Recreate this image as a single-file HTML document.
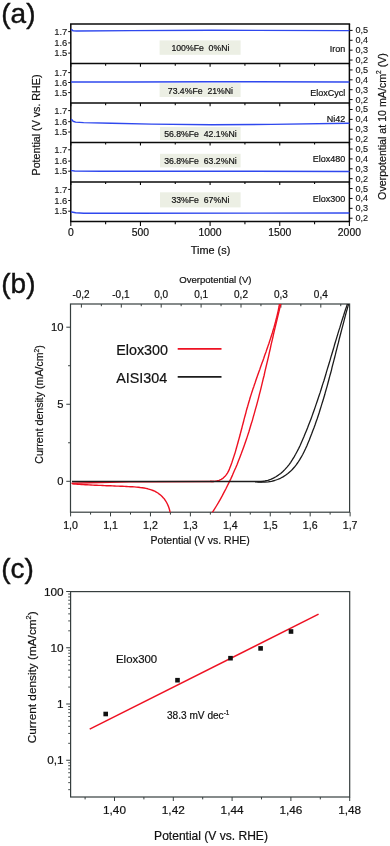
<!DOCTYPE html>
<html lang="en"><head><meta charset="utf-8"><title>Figure</title>
<style>html,body{margin:0;padding:0;background:#fff}svg{display:block}text{stroke:#111;stroke-width:.2px}.tk{stroke-width:.1px}.pl{stroke-width:.4px}</style></head>
<body>
<svg width="390" height="846" viewBox="0 0 390 846" font-family="'Liberation Sans', Arial, sans-serif" fill="#111">
<rect width="390" height="846" fill="#fff"/>
<text x="1.30" y="22.60" font-size="28" text-anchor="start" class="pl">(a)</text>
<text x="1.30" y="293.30" font-size="28" text-anchor="start" class="pl">(b)</text>
<text x="1.30" y="578.20" font-size="28" text-anchor="start" class="pl">(c)</text>
<line x1="70.05" y1="24.00" x2="350.15" y2="24.00" stroke="#0a0a0a" stroke-width="1.5"/>
<line x1="70.05" y1="63.50" x2="350.15" y2="63.50" stroke="#0a0a0a" stroke-width="1.5"/>
<line x1="70.05" y1="103.00" x2="350.15" y2="103.00" stroke="#0a0a0a" stroke-width="1.5"/>
<line x1="70.05" y1="142.40" x2="350.15" y2="142.40" stroke="#0a0a0a" stroke-width="1.5"/>
<line x1="70.05" y1="181.90" x2="350.15" y2="181.90" stroke="#0a0a0a" stroke-width="1.5"/>
<line x1="70.05" y1="221.50" x2="350.15" y2="221.50" stroke="#0a0a0a" stroke-width="1.5"/>
<line x1="70.80" y1="24.00" x2="70.80" y2="221.50" stroke="#0a0a0a" stroke-width="1.5"/>
<line x1="349.40" y1="24.00" x2="349.40" y2="221.50" stroke="#0a0a0a" stroke-width="1.5"/>
<line x1="70.80" y1="63.50" x2="70.80" y2="66.70" stroke="#0a0a0a" stroke-width="1.1"/>
<line x1="105.62" y1="63.50" x2="105.62" y2="65.70" stroke="#0a0a0a" stroke-width="1.1"/>
<line x1="140.45" y1="63.50" x2="140.45" y2="66.70" stroke="#0a0a0a" stroke-width="1.1"/>
<line x1="175.27" y1="63.50" x2="175.27" y2="65.70" stroke="#0a0a0a" stroke-width="1.1"/>
<line x1="210.10" y1="63.50" x2="210.10" y2="66.70" stroke="#0a0a0a" stroke-width="1.1"/>
<line x1="244.92" y1="63.50" x2="244.92" y2="65.70" stroke="#0a0a0a" stroke-width="1.1"/>
<line x1="279.75" y1="63.50" x2="279.75" y2="66.70" stroke="#0a0a0a" stroke-width="1.1"/>
<line x1="314.57" y1="63.50" x2="314.57" y2="65.70" stroke="#0a0a0a" stroke-width="1.1"/>
<line x1="349.40" y1="63.50" x2="349.40" y2="66.70" stroke="#0a0a0a" stroke-width="1.1"/>
<line x1="70.80" y1="103.00" x2="70.80" y2="106.20" stroke="#0a0a0a" stroke-width="1.1"/>
<line x1="105.62" y1="103.00" x2="105.62" y2="105.20" stroke="#0a0a0a" stroke-width="1.1"/>
<line x1="140.45" y1="103.00" x2="140.45" y2="106.20" stroke="#0a0a0a" stroke-width="1.1"/>
<line x1="175.27" y1="103.00" x2="175.27" y2="105.20" stroke="#0a0a0a" stroke-width="1.1"/>
<line x1="210.10" y1="103.00" x2="210.10" y2="106.20" stroke="#0a0a0a" stroke-width="1.1"/>
<line x1="244.92" y1="103.00" x2="244.92" y2="105.20" stroke="#0a0a0a" stroke-width="1.1"/>
<line x1="279.75" y1="103.00" x2="279.75" y2="106.20" stroke="#0a0a0a" stroke-width="1.1"/>
<line x1="314.57" y1="103.00" x2="314.57" y2="105.20" stroke="#0a0a0a" stroke-width="1.1"/>
<line x1="349.40" y1="103.00" x2="349.40" y2="106.20" stroke="#0a0a0a" stroke-width="1.1"/>
<line x1="70.80" y1="142.40" x2="70.80" y2="145.60" stroke="#0a0a0a" stroke-width="1.1"/>
<line x1="105.62" y1="142.40" x2="105.62" y2="144.60" stroke="#0a0a0a" stroke-width="1.1"/>
<line x1="140.45" y1="142.40" x2="140.45" y2="145.60" stroke="#0a0a0a" stroke-width="1.1"/>
<line x1="175.27" y1="142.40" x2="175.27" y2="144.60" stroke="#0a0a0a" stroke-width="1.1"/>
<line x1="210.10" y1="142.40" x2="210.10" y2="145.60" stroke="#0a0a0a" stroke-width="1.1"/>
<line x1="244.92" y1="142.40" x2="244.92" y2="144.60" stroke="#0a0a0a" stroke-width="1.1"/>
<line x1="279.75" y1="142.40" x2="279.75" y2="145.60" stroke="#0a0a0a" stroke-width="1.1"/>
<line x1="314.57" y1="142.40" x2="314.57" y2="144.60" stroke="#0a0a0a" stroke-width="1.1"/>
<line x1="349.40" y1="142.40" x2="349.40" y2="145.60" stroke="#0a0a0a" stroke-width="1.1"/>
<line x1="70.80" y1="181.90" x2="70.80" y2="185.10" stroke="#0a0a0a" stroke-width="1.1"/>
<line x1="105.62" y1="181.90" x2="105.62" y2="184.10" stroke="#0a0a0a" stroke-width="1.1"/>
<line x1="140.45" y1="181.90" x2="140.45" y2="185.10" stroke="#0a0a0a" stroke-width="1.1"/>
<line x1="175.27" y1="181.90" x2="175.27" y2="184.10" stroke="#0a0a0a" stroke-width="1.1"/>
<line x1="210.10" y1="181.90" x2="210.10" y2="185.10" stroke="#0a0a0a" stroke-width="1.1"/>
<line x1="244.92" y1="181.90" x2="244.92" y2="184.10" stroke="#0a0a0a" stroke-width="1.1"/>
<line x1="279.75" y1="181.90" x2="279.75" y2="185.10" stroke="#0a0a0a" stroke-width="1.1"/>
<line x1="314.57" y1="181.90" x2="314.57" y2="184.10" stroke="#0a0a0a" stroke-width="1.1"/>
<line x1="349.40" y1="181.90" x2="349.40" y2="185.10" stroke="#0a0a0a" stroke-width="1.1"/>
<line x1="70.80" y1="221.50" x2="70.80" y2="226.00" stroke="#0a0a0a" stroke-width="1.1"/>
<line x1="105.62" y1="221.50" x2="105.62" y2="224.20" stroke="#0a0a0a" stroke-width="1.1"/>
<line x1="140.45" y1="221.50" x2="140.45" y2="226.00" stroke="#0a0a0a" stroke-width="1.1"/>
<line x1="175.27" y1="221.50" x2="175.27" y2="224.20" stroke="#0a0a0a" stroke-width="1.1"/>
<line x1="210.10" y1="221.50" x2="210.10" y2="226.00" stroke="#0a0a0a" stroke-width="1.1"/>
<line x1="244.92" y1="221.50" x2="244.92" y2="224.20" stroke="#0a0a0a" stroke-width="1.1"/>
<line x1="279.75" y1="221.50" x2="279.75" y2="226.00" stroke="#0a0a0a" stroke-width="1.1"/>
<line x1="314.57" y1="221.50" x2="314.57" y2="224.20" stroke="#0a0a0a" stroke-width="1.1"/>
<line x1="349.40" y1="221.50" x2="349.40" y2="226.00" stroke="#0a0a0a" stroke-width="1.1"/>
<text transform="translate(67.30,34.87) scale(1.14,1)" font-size="8.3" text-anchor="end" class="tk">1.7</text>
<line x1="68.20" y1="31.60" x2="70.80" y2="31.60" stroke="#0a0a0a" stroke-width="1.0"/>
<text transform="translate(67.30,46.17) scale(1.14,1)" font-size="8.3" text-anchor="end" class="tk">1.6</text>
<line x1="68.20" y1="42.90" x2="70.80" y2="42.90" stroke="#0a0a0a" stroke-width="1.0"/>
<text transform="translate(67.30,56.37) scale(1.14,1)" font-size="8.3" text-anchor="end" class="tk">1.5</text>
<line x1="68.20" y1="53.10" x2="70.80" y2="53.10" stroke="#0a0a0a" stroke-width="1.0"/>
<text transform="translate(67.30,75.87) scale(1.14,1)" font-size="8.3" text-anchor="end" class="tk">1.7</text>
<line x1="68.20" y1="72.60" x2="70.80" y2="72.60" stroke="#0a0a0a" stroke-width="1.0"/>
<text transform="translate(67.30,85.77) scale(1.14,1)" font-size="8.3" text-anchor="end" class="tk">1.6</text>
<line x1="68.20" y1="82.50" x2="70.80" y2="82.50" stroke="#0a0a0a" stroke-width="1.0"/>
<text transform="translate(67.30,95.87) scale(1.14,1)" font-size="8.3" text-anchor="end" class="tk">1.5</text>
<line x1="68.20" y1="92.60" x2="70.80" y2="92.60" stroke="#0a0a0a" stroke-width="1.0"/>
<text transform="translate(67.30,113.87) scale(1.14,1)" font-size="8.3" text-anchor="end" class="tk">1.7</text>
<line x1="68.20" y1="110.60" x2="70.80" y2="110.60" stroke="#0a0a0a" stroke-width="1.0"/>
<text transform="translate(67.30,124.97) scale(1.14,1)" font-size="8.3" text-anchor="end" class="tk">1.6</text>
<line x1="68.20" y1="121.70" x2="70.80" y2="121.70" stroke="#0a0a0a" stroke-width="1.0"/>
<text transform="translate(67.30,135.27) scale(1.14,1)" font-size="8.3" text-anchor="end" class="tk">1.5</text>
<line x1="68.20" y1="132.00" x2="70.80" y2="132.00" stroke="#0a0a0a" stroke-width="1.0"/>
<text transform="translate(67.30,153.07) scale(1.14,1)" font-size="8.3" text-anchor="end" class="tk">1.7</text>
<line x1="68.20" y1="149.80" x2="70.80" y2="149.80" stroke="#0a0a0a" stroke-width="1.0"/>
<text transform="translate(67.30,164.37) scale(1.14,1)" font-size="8.3" text-anchor="end" class="tk">1.6</text>
<line x1="68.20" y1="161.10" x2="70.80" y2="161.10" stroke="#0a0a0a" stroke-width="1.0"/>
<text transform="translate(67.30,174.47) scale(1.14,1)" font-size="8.3" text-anchor="end" class="tk">1.5</text>
<line x1="68.20" y1="171.20" x2="70.80" y2="171.20" stroke="#0a0a0a" stroke-width="1.0"/>
<text transform="translate(67.30,192.67) scale(1.14,1)" font-size="8.3" text-anchor="end" class="tk">1.7</text>
<line x1="68.20" y1="189.40" x2="70.80" y2="189.40" stroke="#0a0a0a" stroke-width="1.0"/>
<text transform="translate(67.30,203.77) scale(1.14,1)" font-size="8.3" text-anchor="end" class="tk">1.6</text>
<line x1="68.20" y1="200.50" x2="70.80" y2="200.50" stroke="#0a0a0a" stroke-width="1.0"/>
<text transform="translate(67.30,214.47) scale(1.14,1)" font-size="8.3" text-anchor="end" class="tk">1.5</text>
<line x1="68.20" y1="211.20" x2="70.80" y2="211.20" stroke="#0a0a0a" stroke-width="1.0"/>
<text transform="translate(355.40,33.37) scale(1.1,1)" font-size="8.3" text-anchor="start" class="tk">0,5</text>
<line x1="349.40" y1="30.40" x2="352.60" y2="30.40" stroke="#0a0a0a" stroke-width="1.0"/>
<text transform="translate(355.40,43.26) scale(1.1,1)" font-size="8.3" text-anchor="start" class="tk">0,4</text>
<line x1="349.40" y1="40.28" x2="352.60" y2="40.28" stroke="#0a0a0a" stroke-width="1.0"/>
<text transform="translate(355.40,53.14) scale(1.1,1)" font-size="8.3" text-anchor="start" class="tk">0,3</text>
<line x1="349.40" y1="50.17" x2="352.60" y2="50.17" stroke="#0a0a0a" stroke-width="1.0"/>
<text transform="translate(355.40,63.03) scale(1.1,1)" font-size="8.3" text-anchor="start" class="tk">0,2</text>
<line x1="349.40" y1="60.05" x2="352.60" y2="60.05" stroke="#0a0a0a" stroke-width="1.0"/>
<text transform="translate(355.40,72.91) scale(1.1,1)" font-size="8.3" text-anchor="start" class="tk">0,5</text>
<line x1="349.40" y1="69.94" x2="352.60" y2="69.94" stroke="#0a0a0a" stroke-width="1.0"/>
<text transform="translate(355.40,82.80) scale(1.1,1)" font-size="8.3" text-anchor="start" class="tk">0,4</text>
<line x1="349.40" y1="79.82" x2="352.60" y2="79.82" stroke="#0a0a0a" stroke-width="1.0"/>
<text transform="translate(355.40,92.68) scale(1.1,1)" font-size="8.3" text-anchor="start" class="tk">0,3</text>
<line x1="349.40" y1="89.71" x2="352.60" y2="89.71" stroke="#0a0a0a" stroke-width="1.0"/>
<text transform="translate(355.40,102.57) scale(1.1,1)" font-size="8.3" text-anchor="start" class="tk">0,2</text>
<line x1="349.40" y1="99.59" x2="352.60" y2="99.59" stroke="#0a0a0a" stroke-width="1.0"/>
<text transform="translate(355.40,112.45) scale(1.1,1)" font-size="8.3" text-anchor="start" class="tk">0,5</text>
<line x1="349.40" y1="109.48" x2="352.60" y2="109.48" stroke="#0a0a0a" stroke-width="1.0"/>
<text transform="translate(355.40,122.34) scale(1.1,1)" font-size="8.3" text-anchor="start" class="tk">0,4</text>
<line x1="349.40" y1="119.37" x2="352.60" y2="119.37" stroke="#0a0a0a" stroke-width="1.0"/>
<text transform="translate(355.40,132.22) scale(1.1,1)" font-size="8.3" text-anchor="start" class="tk">0,3</text>
<line x1="349.40" y1="129.25" x2="352.60" y2="129.25" stroke="#0a0a0a" stroke-width="1.0"/>
<text transform="translate(355.40,142.11) scale(1.1,1)" font-size="8.3" text-anchor="start" class="tk">0,2</text>
<line x1="349.40" y1="139.13" x2="352.60" y2="139.13" stroke="#0a0a0a" stroke-width="1.0"/>
<text transform="translate(355.40,151.99) scale(1.1,1)" font-size="8.3" text-anchor="start" class="tk">0,5</text>
<line x1="349.40" y1="149.02" x2="352.60" y2="149.02" stroke="#0a0a0a" stroke-width="1.0"/>
<text transform="translate(355.40,161.88) scale(1.1,1)" font-size="8.3" text-anchor="start" class="tk">0,4</text>
<line x1="349.40" y1="158.91" x2="352.60" y2="158.91" stroke="#0a0a0a" stroke-width="1.0"/>
<text transform="translate(355.40,171.76) scale(1.1,1)" font-size="8.3" text-anchor="start" class="tk">0,3</text>
<line x1="349.40" y1="168.79" x2="352.60" y2="168.79" stroke="#0a0a0a" stroke-width="1.0"/>
<text transform="translate(355.40,181.65) scale(1.1,1)" font-size="8.3" text-anchor="start" class="tk">0,2</text>
<line x1="349.40" y1="178.68" x2="352.60" y2="178.68" stroke="#0a0a0a" stroke-width="1.0"/>
<text transform="translate(355.40,191.53) scale(1.1,1)" font-size="8.3" text-anchor="start" class="tk">0,5</text>
<line x1="349.40" y1="188.56" x2="352.60" y2="188.56" stroke="#0a0a0a" stroke-width="1.0"/>
<text transform="translate(355.40,201.42) scale(1.1,1)" font-size="8.3" text-anchor="start" class="tk">0,4</text>
<line x1="349.40" y1="198.44" x2="352.60" y2="198.44" stroke="#0a0a0a" stroke-width="1.0"/>
<text transform="translate(355.40,211.30) scale(1.1,1)" font-size="8.3" text-anchor="start" class="tk">0,3</text>
<line x1="349.40" y1="208.33" x2="352.60" y2="208.33" stroke="#0a0a0a" stroke-width="1.0"/>
<text transform="translate(355.40,221.19) scale(1.1,1)" font-size="8.3" text-anchor="start" class="tk">0,2</text>
<line x1="349.40" y1="218.22" x2="352.60" y2="218.22" stroke="#0a0a0a" stroke-width="1.0"/>
<path d="M71.6,29.6 L73.1,30.9 L76.6,31.0 L131.6,30.6 L211.6,30.3 L348.9,30.6" fill="none" stroke="#2f48ee" stroke-width="1.45" stroke-linejoin="round" stroke-linecap="round"/>
<path d="M71.6,82.0 L131.6,81.9 L211.6,81.7 L348.9,82.0" fill="none" stroke="#2f48ee" stroke-width="1.45" stroke-linejoin="round" stroke-linecap="round"/>
<path d="M71.6,119.5 L73.1,121.2 L75.6,122.1 L83.6,122.6 L111.6,123.3 L151.6,124.1 L211.6,124.8 L271.6,124.4 L348.9,123.3" fill="none" stroke="#2f48ee" stroke-width="1.45" stroke-linejoin="round" stroke-linecap="round"/>
<path d="M71.6,170.6 L74.6,171.0 L101.6,171.3 L211.6,171.3 L348.9,171.4" fill="none" stroke="#2f48ee" stroke-width="1.45" stroke-linejoin="round" stroke-linecap="round"/>
<path d="M71.6,212.0 L75.6,212.8 L83.6,213.2 L131.6,213.3 L348.9,213.0" fill="none" stroke="#2f48ee" stroke-width="1.45" stroke-linejoin="round" stroke-linecap="round"/>
<rect x="159.6" y="40.4" width="81.0" height="14.4" fill="#ecefe4"/>
<text x="200.40" y="51.41" font-size="8.7" text-anchor="middle" xml:space="preserve">100%Fe&#160;&#160;0%Ni</text>
<rect x="159.6" y="83.2" width="81.0" height="13.8" fill="#ecefe4"/>
<text x="200.40" y="94.11" font-size="8.7" text-anchor="middle" xml:space="preserve">73.4%Fe&#160;&#160;21%Ni</text>
<rect x="160" y="127" width="80.6" height="13.2" fill="#ecefe4"/>
<text x="200.40" y="136.91" font-size="8.7" text-anchor="middle" xml:space="preserve">56.8%Fe&#160;&#160;42.1%Ni</text>
<rect x="160" y="153.8" width="80.6" height="13.6" fill="#ecefe4"/>
<text x="200.40" y="164.11" font-size="8.7" text-anchor="middle" xml:space="preserve">36.8%Fe&#160;&#160;63.2%Ni</text>
<rect x="160" y="192.3" width="80.6" height="15.1" fill="#ecefe4"/>
<text x="200.40" y="203.11" font-size="8.7" text-anchor="middle" xml:space="preserve">33%Fe&#160;&#160;67%Ni</text>
<text x="345.30" y="52.42" font-size="9.0" text-anchor="end">Iron</text>
<text x="345.30" y="95.52" font-size="9.0" text-anchor="end">EloxCycl</text>
<text x="345.30" y="121.72" font-size="9.0" text-anchor="end">Ni42</text>
<text x="345.30" y="162.42" font-size="9.0" text-anchor="end">Elox480</text>
<text x="345.30" y="201.52" font-size="9.0" text-anchor="end">Elox300</text>
<text x="70.80" y="236.12" font-size="10.4" text-anchor="middle">0</text>
<text x="140.45" y="236.12" font-size="10.4" text-anchor="middle">500</text>
<text x="210.10" y="236.12" font-size="10.4" text-anchor="middle">1000</text>
<text x="279.75" y="236.12" font-size="10.4" text-anchor="middle">1500</text>
<text x="349.40" y="236.12" font-size="10.4" text-anchor="middle">2000</text>
<text x="210.50" y="253.90" font-size="10.9" text-anchor="middle">Time (s)</text>
<text transform="translate(39.70,125.00) rotate(-90)" font-size="10.7" text-anchor="middle">Potential (V vs. RHE)</text>
<text transform="translate(385.80,126.50) rotate(-90)" font-size="10.65" text-anchor="middle">Overpotential at 10 mA/cm<tspan font-size="6.6" dy="-4.4">2</tspan><tspan dy="4.4"> (V)</tspan></text>
<rect x="70.5" y="304.0" width="279.10" height="208.20" fill="none" stroke="#363e3e" stroke-width="1.2"/>
<line x1="70.60" y1="512.20" x2="70.60" y2="516.40" stroke="#363e3e" stroke-width="1.0"/>
<text x="70.60" y="528.59" font-size="10.6" text-anchor="middle">1,0</text>
<line x1="90.57" y1="512.20" x2="90.57" y2="514.60" stroke="#363e3e" stroke-width="1.0"/>
<line x1="110.53" y1="512.20" x2="110.53" y2="516.40" stroke="#363e3e" stroke-width="1.0"/>
<text x="110.53" y="528.59" font-size="10.6" text-anchor="middle">1,1</text>
<line x1="130.49" y1="512.20" x2="130.49" y2="514.60" stroke="#363e3e" stroke-width="1.0"/>
<line x1="150.46" y1="512.20" x2="150.46" y2="516.40" stroke="#363e3e" stroke-width="1.0"/>
<text x="150.46" y="528.59" font-size="10.6" text-anchor="middle">1,2</text>
<line x1="170.43" y1="512.20" x2="170.43" y2="514.60" stroke="#363e3e" stroke-width="1.0"/>
<line x1="190.39" y1="512.20" x2="190.39" y2="516.40" stroke="#363e3e" stroke-width="1.0"/>
<text x="190.39" y="528.59" font-size="10.6" text-anchor="middle">1,3</text>
<line x1="210.36" y1="512.20" x2="210.36" y2="514.60" stroke="#363e3e" stroke-width="1.0"/>
<line x1="230.32" y1="512.20" x2="230.32" y2="516.40" stroke="#363e3e" stroke-width="1.0"/>
<text x="230.32" y="528.59" font-size="10.6" text-anchor="middle">1,4</text>
<line x1="250.28" y1="512.20" x2="250.28" y2="514.60" stroke="#363e3e" stroke-width="1.0"/>
<line x1="270.25" y1="512.20" x2="270.25" y2="516.40" stroke="#363e3e" stroke-width="1.0"/>
<text x="270.25" y="528.59" font-size="10.6" text-anchor="middle">1,5</text>
<line x1="290.22" y1="512.20" x2="290.22" y2="514.60" stroke="#363e3e" stroke-width="1.0"/>
<line x1="310.18" y1="512.20" x2="310.18" y2="516.40" stroke="#363e3e" stroke-width="1.0"/>
<text x="310.18" y="528.59" font-size="10.6" text-anchor="middle">1,6</text>
<line x1="330.14" y1="512.20" x2="330.14" y2="514.60" stroke="#363e3e" stroke-width="1.0"/>
<line x1="350.11" y1="512.20" x2="350.11" y2="516.40" stroke="#363e3e" stroke-width="1.0"/>
<text x="350.11" y="528.59" font-size="10.6" text-anchor="middle">1,7</text>
<line x1="81.40" y1="304.00" x2="81.40" y2="307.60" stroke="#363e3e" stroke-width="1.0"/>
<text x="81.00" y="297.68" font-size="10.0" text-anchor="middle">-0,2</text>
<line x1="101.35" y1="304.00" x2="101.35" y2="306.20" stroke="#363e3e" stroke-width="1.0"/>
<line x1="121.30" y1="304.00" x2="121.30" y2="307.60" stroke="#363e3e" stroke-width="1.0"/>
<text x="120.90" y="297.68" font-size="10.0" text-anchor="middle">-0,1</text>
<line x1="141.25" y1="304.00" x2="141.25" y2="306.20" stroke="#363e3e" stroke-width="1.0"/>
<line x1="161.20" y1="304.00" x2="161.20" y2="307.60" stroke="#363e3e" stroke-width="1.0"/>
<text x="161.20" y="297.68" font-size="10.0" text-anchor="middle">0,0</text>
<line x1="181.15" y1="304.00" x2="181.15" y2="306.20" stroke="#363e3e" stroke-width="1.0"/>
<line x1="201.10" y1="304.00" x2="201.10" y2="307.60" stroke="#363e3e" stroke-width="1.0"/>
<text x="201.10" y="297.68" font-size="10.0" text-anchor="middle">0,1</text>
<line x1="221.05" y1="304.00" x2="221.05" y2="306.20" stroke="#363e3e" stroke-width="1.0"/>
<line x1="241.00" y1="304.00" x2="241.00" y2="307.60" stroke="#363e3e" stroke-width="1.0"/>
<text x="241.00" y="297.68" font-size="10.0" text-anchor="middle">0,2</text>
<line x1="260.95" y1="304.00" x2="260.95" y2="306.20" stroke="#363e3e" stroke-width="1.0"/>
<line x1="280.90" y1="304.00" x2="280.90" y2="307.60" stroke="#363e3e" stroke-width="1.0"/>
<text x="280.90" y="297.68" font-size="10.0" text-anchor="middle">0,3</text>
<line x1="300.85" y1="304.00" x2="300.85" y2="306.20" stroke="#363e3e" stroke-width="1.0"/>
<line x1="320.80" y1="304.00" x2="320.80" y2="307.60" stroke="#363e3e" stroke-width="1.0"/>
<text x="320.80" y="297.68" font-size="10.0" text-anchor="middle">0,4</text>
<line x1="340.75" y1="304.00" x2="340.75" y2="306.20" stroke="#363e3e" stroke-width="1.0"/>
<line x1="66.30" y1="327.20" x2="70.50" y2="327.20" stroke="#363e3e" stroke-width="1.0"/>
<text x="63.40" y="331.21" font-size="11.2" text-anchor="end">10</text>
<line x1="66.30" y1="404.25" x2="70.50" y2="404.25" stroke="#363e3e" stroke-width="1.0"/>
<text x="63.40" y="408.26" font-size="11.2" text-anchor="end">5</text>
<line x1="66.30" y1="481.30" x2="70.50" y2="481.30" stroke="#363e3e" stroke-width="1.0"/>
<text x="63.40" y="485.31" font-size="11.2" text-anchor="end">0</text>
<line x1="68.10" y1="365.73" x2="70.50" y2="365.73" stroke="#363e3e" stroke-width="1.0"/>
<line x1="68.10" y1="442.78" x2="70.50" y2="442.78" stroke="#363e3e" stroke-width="1.0"/>
<text x="215.40" y="282.82" font-size="9.55" text-anchor="middle">Overpotential (V)</text>
<text x="200.20" y="543.76" font-size="10.5" text-anchor="middle">Potential (V vs. RHE)</text>
<text transform="translate(43.40,404.50) rotate(-90)" font-size="10.6" text-anchor="middle">Current density (mA/cm<tspan font-size="6.6" dy="-4.4">2</tspan><tspan dy="4.4">)</tspan></text>
<clipPath id="cb"><rect x="70.5" y="304.0" width="279.10" height="208.20"/></clipPath>
<g clip-path="url(#cb)">
<path d="M72.2,483.8 L74.0,484.0 L75.8,484.1 L77.7,484.3 L79.6,484.4 L81.4,484.5 L83.3,484.6 L85.2,484.7 L87.1,484.8 L89.0,484.9 L90.9,485.0 L92.9,485.1 L94.8,485.2 L96.7,485.3 L98.7,485.4 L100.6,485.4 L102.6,485.5 L104.6,485.6 L106.5,485.7 L108.5,485.7 L110.5,485.8 L112.5,485.9 L114.5,486.0 L116.4,486.1 L118.4,486.1 L120.4,486.2 L122.4,486.3 L124.4,486.4 L126.4,486.5 L128.4,486.6 L130.4,486.7 L132.4,486.8 L134.3,486.9 L136.3,487.1 L138.3,487.2 L140.2,487.5 L142.2,487.7 L144.1,488.0 L145.9,488.4 L147.8,488.8 L149.6,489.3 L151.3,489.8 L153.0,490.5 L154.7,491.2 L156.3,492.1 L157.9,493.0 L159.3,494.1 L160.8,495.2 L162.1,496.5 L163.4,497.9 L164.6,499.3 L165.6,500.9 L166.6,502.5 L167.5,504.3 L168.3,506.1 L169.0,508.0 L169.6,510.0 L170.0,512.0 L170.3,514.2 L170.5,516.4" fill="none" stroke="#ee1122" stroke-width="1.4" stroke-linejoin="round"/>
<path d="M72.0,483.3 L90.0,482.7 L110.0,482.2 L130.0,481.9 L150.0,481.7 L214.0,481.5" fill="none" stroke="#ee1122" stroke-width="1.4" stroke-linejoin="round" stroke-linecap="round"/>
<path d="M210.1,481.2 L212.1,481.5 L214.4,481.4 L216.7,481.0 L219.1,480.3 L221.2,479.3 L223.2,478.1 L224.8,476.6 L226.2,474.9 L227.4,473.1 L228.5,471.2 L229.4,469.1 L230.2,467.0 L231.0,464.9 L231.8,462.8 L232.5,460.6 L233.2,458.5 L233.9,456.4 L234.6,454.2 L235.3,452.1 L235.9,449.9 L236.5,447.8 L237.1,445.6 L237.7,443.5 L238.3,441.3 L238.9,439.1 L239.5,437.0 L240.1,434.8 L240.6,432.7 L241.2,430.5 L241.8,428.3 L242.3,426.1 L242.9,424.0 L243.5,421.8 L244.0,419.6 L244.6,417.4 L245.2,415.3 L245.8,413.1 L246.3,410.9 L246.9,408.7 L247.6,406.5 L248.2,404.4 L248.8,402.2 L249.5,400.0 L250.1,397.8 L250.8,395.6 L251.5,393.4 L252.2,391.3 L252.9,389.1 L253.7,386.9 L254.4,384.7 L255.2,382.5 L255.9,380.3 L256.7,378.1 L257.4,376.0 L258.2,373.8 L259.0,371.6 L259.8,369.4 L260.5,367.2 L261.3,365.0 L262.1,362.8 L262.9,360.7 L263.7,358.5 L264.4,356.3 L265.2,354.1 L266.0,351.9 L266.7,349.7 L267.5,347.6 L268.2,345.4 L269.0,343.2 L269.7,341.0 L270.4,338.9 L271.1,336.7 L271.8,334.5 L272.5,332.4 L273.1,330.2 L273.8,328.0 L274.4,325.9 L275.0,323.7 L275.6,321.5 L276.1,319.4 L276.7,317.2 L277.2,315.1 L277.7,312.9 L278.2,310.8 L278.6,308.6 L279.1,306.5 L279.4,304.4 L279.8,302.2 L280.2,300.1" fill="none" stroke="#ee1122" stroke-width="1.4" stroke-linejoin="round"/>
<path d="M210.1,516.0 L212.2,512.7 L214.3,509.4 L216.4,506.0 L218.4,502.7 L220.3,499.3 L222.2,495.9 L224.0,492.4 L225.8,489.0 L227.5,485.5 L229.2,482.1 L230.9,478.6 L232.5,475.1 L234.0,471.5 L235.6,468.0 L237.1,464.4 L238.5,460.8 L239.9,457.2 L241.3,453.6 L242.6,450.0 L243.9,446.4 L245.2,442.7 L246.5,439.1 L247.7,435.4 L248.9,431.7 L250.0,428.0 L251.1,424.3 L252.3,420.6 L253.3,416.9 L254.4,413.1 L255.4,409.4 L256.5,405.6 L257.5,401.9 L258.5,398.1 L259.4,394.4 L260.4,390.6 L261.3,386.8 L262.2,383.1 L263.1,379.3 L264.1,375.5 L264.9,371.7 L265.8,367.9 L266.7,364.1 L267.6,360.3 L268.5,356.6 L269.3,352.8 L270.2,349.0 L271.0,345.2 L271.9,341.4 L272.8,337.6 L273.6,333.8 L274.5,330.1 L275.4,326.3 L276.3,322.5 L277.2,318.8 L278.1,315.0 L279.0,311.3 L279.9,307.5 L280.8,303.8 L281.8,300.1" fill="none" stroke="#ee1122" stroke-width="1.4" stroke-linejoin="round"/>
<line x1="72.00" y1="481.50" x2="262.00" y2="481.40" stroke="#1c1c1c" stroke-width="1.5"/>
<path d="M255.1,481.8 L258.6,481.8 L261.8,481.5 L264.9,481.0 L267.9,480.3 L270.7,479.3 L273.4,478.1 L275.9,476.7 L278.4,475.1 L280.7,473.4 L282.9,471.5 L285.0,469.4 L287.0,467.1 L288.9,464.8 L290.7,462.3 L292.4,459.7 L294.0,457.1 L295.6,454.3 L297.1,451.5 L298.6,448.6 L300.0,445.7 L301.3,442.7 L302.6,439.7 L303.9,436.7 L305.1,433.7 L306.4,430.7 L307.6,427.8 L308.7,424.8 L309.9,421.8 L311.0,418.9 L312.1,415.9 L313.1,413.0 L314.2,410.0 L315.2,407.1 L316.2,404.1 L317.2,401.2 L318.2,398.3 L319.2,395.3 L320.2,392.4 L321.1,389.5 L322.0,386.5 L322.9,383.6 L323.9,380.7 L324.8,377.7 L325.7,374.8 L326.5,371.9 L327.4,368.9 L328.3,366.0 L329.2,363.0 L330.1,360.1 L330.9,357.1 L331.8,354.2 L332.7,351.2 L333.6,348.3 L334.4,345.3 L335.3,342.3 L336.2,339.4 L337.1,336.4 L338.0,333.4 L338.9,330.4 L339.9,327.4 L340.8,324.4 L341.7,321.4 L342.7,318.3 L343.7,315.3 L344.6,312.2 L345.6,309.2 L346.7,306.1 L347.7,303.0 L348.7,299.9" fill="none" stroke="#1c1c1c" stroke-width="1.3" stroke-linejoin="round"/>
<path d="M257.4,481.9 L261.2,482.1 L264.8,482.1 L268.2,481.8 L271.5,481.3 L274.6,480.5 L277.5,479.5 L280.4,478.3 L283.0,476.9 L285.5,475.3 L287.9,473.5 L290.2,471.6 L292.3,469.5 L294.3,467.3 L296.2,464.9 L297.9,462.5 L299.6,459.9 L301.2,457.2 L302.7,454.5 L304.1,451.7 L305.5,448.8 L306.8,445.9 L308.0,442.9 L309.3,440.0 L310.4,437.0 L311.6,434.0 L312.7,431.0 L313.9,428.0 L315.0,425.0 L316.0,422.0 L317.1,419.0 L318.1,416.0 L319.1,413.0 L320.0,410.0 L321.0,406.9 L321.9,403.9 L322.9,400.8 L323.8,397.8 L324.7,394.8 L325.5,391.7 L326.4,388.6 L327.3,385.6 L328.1,382.5 L328.9,379.5 L329.7,376.4 L330.6,373.3 L331.4,370.3 L332.1,367.2 L332.9,364.1 L333.7,361.1 L334.5,358.0 L335.3,354.9 L336.0,351.9 L336.8,348.8 L337.6,345.7 L338.4,342.7 L339.1,339.6 L339.9,336.5 L340.7,333.5 L341.5,330.4 L342.3,327.4 L343.1,324.3 L343.9,321.3 L344.7,318.2 L345.5,315.2 L346.3,312.2 L347.2,309.1 L348.0,306.1 L348.9,303.1 L349.8,300.1" fill="none" stroke="#1c1c1c" stroke-width="1.3" stroke-linejoin="round"/>
</g>
<text x="116.20" y="355.34" font-size="14.35" text-anchor="start">Elox300</text>
<text x="116.20" y="383.34" font-size="14.35" text-anchor="start">AISI304</text>
<line x1="177.70" y1="348.90" x2="221.50" y2="348.90" stroke="#ee1122" stroke-width="1.6"/>
<line x1="177.70" y1="376.90" x2="221.50" y2="376.90" stroke="#1c1c1c" stroke-width="1.6"/>
<rect x="70.6" y="591.6" width="279.10" height="205.40" fill="none" stroke="#363e3e" stroke-width="1.2"/>
<line x1="66.20" y1="591.50" x2="70.60" y2="591.50" stroke="#363e3e" stroke-width="1.0"/>
<text x="63.60" y="595.72" font-size="11.8" text-anchor="end">100</text>
<line x1="66.20" y1="647.75" x2="70.60" y2="647.75" stroke="#363e3e" stroke-width="1.0"/>
<text x="63.60" y="651.97" font-size="11.8" text-anchor="end">10</text>
<line x1="66.20" y1="704.00" x2="70.60" y2="704.00" stroke="#363e3e" stroke-width="1.0"/>
<text x="63.60" y="708.22" font-size="11.8" text-anchor="end">1</text>
<line x1="66.20" y1="760.25" x2="70.60" y2="760.25" stroke="#363e3e" stroke-width="1.0"/>
<text x="63.60" y="764.47" font-size="11.8" text-anchor="end">0,1</text>
<line x1="68.20" y1="789.66" x2="70.60" y2="789.66" stroke="#363e3e" stroke-width="0.9"/>
<line x1="68.20" y1="782.63" x2="70.60" y2="782.63" stroke="#363e3e" stroke-width="0.9"/>
<line x1="68.20" y1="777.18" x2="70.60" y2="777.18" stroke="#363e3e" stroke-width="0.9"/>
<line x1="68.20" y1="772.73" x2="70.60" y2="772.73" stroke="#363e3e" stroke-width="0.9"/>
<line x1="68.20" y1="768.96" x2="70.60" y2="768.96" stroke="#363e3e" stroke-width="0.9"/>
<line x1="68.20" y1="765.70" x2="70.60" y2="765.70" stroke="#363e3e" stroke-width="0.9"/>
<line x1="68.20" y1="762.82" x2="70.60" y2="762.82" stroke="#363e3e" stroke-width="0.9"/>
<line x1="68.20" y1="743.32" x2="70.60" y2="743.32" stroke="#363e3e" stroke-width="0.9"/>
<line x1="68.20" y1="733.41" x2="70.60" y2="733.41" stroke="#363e3e" stroke-width="0.9"/>
<line x1="68.20" y1="726.38" x2="70.60" y2="726.38" stroke="#363e3e" stroke-width="0.9"/>
<line x1="68.20" y1="720.93" x2="70.60" y2="720.93" stroke="#363e3e" stroke-width="0.9"/>
<line x1="68.20" y1="716.48" x2="70.60" y2="716.48" stroke="#363e3e" stroke-width="0.9"/>
<line x1="68.20" y1="712.71" x2="70.60" y2="712.71" stroke="#363e3e" stroke-width="0.9"/>
<line x1="68.20" y1="709.45" x2="70.60" y2="709.45" stroke="#363e3e" stroke-width="0.9"/>
<line x1="68.20" y1="706.57" x2="70.60" y2="706.57" stroke="#363e3e" stroke-width="0.9"/>
<line x1="68.20" y1="687.07" x2="70.60" y2="687.07" stroke="#363e3e" stroke-width="0.9"/>
<line x1="68.20" y1="677.16" x2="70.60" y2="677.16" stroke="#363e3e" stroke-width="0.9"/>
<line x1="68.20" y1="670.13" x2="70.60" y2="670.13" stroke="#363e3e" stroke-width="0.9"/>
<line x1="68.20" y1="664.68" x2="70.60" y2="664.68" stroke="#363e3e" stroke-width="0.9"/>
<line x1="68.20" y1="660.23" x2="70.60" y2="660.23" stroke="#363e3e" stroke-width="0.9"/>
<line x1="68.20" y1="656.46" x2="70.60" y2="656.46" stroke="#363e3e" stroke-width="0.9"/>
<line x1="68.20" y1="653.20" x2="70.60" y2="653.20" stroke="#363e3e" stroke-width="0.9"/>
<line x1="68.20" y1="650.32" x2="70.60" y2="650.32" stroke="#363e3e" stroke-width="0.9"/>
<line x1="68.20" y1="630.82" x2="70.60" y2="630.82" stroke="#363e3e" stroke-width="0.9"/>
<line x1="68.20" y1="620.91" x2="70.60" y2="620.91" stroke="#363e3e" stroke-width="0.9"/>
<line x1="68.20" y1="613.88" x2="70.60" y2="613.88" stroke="#363e3e" stroke-width="0.9"/>
<line x1="68.20" y1="608.43" x2="70.60" y2="608.43" stroke="#363e3e" stroke-width="0.9"/>
<line x1="68.20" y1="603.98" x2="70.60" y2="603.98" stroke="#363e3e" stroke-width="0.9"/>
<line x1="68.20" y1="600.21" x2="70.60" y2="600.21" stroke="#363e3e" stroke-width="0.9"/>
<line x1="68.20" y1="596.95" x2="70.60" y2="596.95" stroke="#363e3e" stroke-width="0.9"/>
<line x1="68.20" y1="594.07" x2="70.60" y2="594.07" stroke="#363e3e" stroke-width="0.9"/>
<line x1="85.10" y1="797.00" x2="85.10" y2="799.40" stroke="#363e3e" stroke-width="1.0"/>
<line x1="114.50" y1="797.00" x2="114.50" y2="801.00" stroke="#363e3e" stroke-width="1.0"/>
<text x="114.50" y="813.72" font-size="11.8" text-anchor="middle">1,40</text>
<line x1="143.90" y1="797.00" x2="143.90" y2="799.40" stroke="#363e3e" stroke-width="1.0"/>
<line x1="173.30" y1="797.00" x2="173.30" y2="801.00" stroke="#363e3e" stroke-width="1.0"/>
<text x="173.30" y="813.72" font-size="11.8" text-anchor="middle">1,42</text>
<line x1="202.70" y1="797.00" x2="202.70" y2="799.40" stroke="#363e3e" stroke-width="1.0"/>
<line x1="232.10" y1="797.00" x2="232.10" y2="801.00" stroke="#363e3e" stroke-width="1.0"/>
<text x="232.10" y="813.72" font-size="11.8" text-anchor="middle">1,44</text>
<line x1="261.50" y1="797.00" x2="261.50" y2="799.40" stroke="#363e3e" stroke-width="1.0"/>
<line x1="290.90" y1="797.00" x2="290.90" y2="801.00" stroke="#363e3e" stroke-width="1.0"/>
<text x="290.90" y="813.72" font-size="11.8" text-anchor="middle">1,46</text>
<line x1="320.30" y1="797.00" x2="320.30" y2="799.40" stroke="#363e3e" stroke-width="1.0"/>
<line x1="349.70" y1="797.00" x2="349.70" y2="801.00" stroke="#363e3e" stroke-width="1.0"/>
<text x="349.70" y="813.72" font-size="11.8" text-anchor="middle">1,48</text>
<text x="211.00" y="839.71" font-size="12.05" text-anchor="middle">Potential (V vs. RHE)</text>
<text transform="translate(36.20,677.30) rotate(-90)" font-size="11.8" text-anchor="middle">Current density (mA/cm<tspan font-size="7.4" dy="-4.8">2</tspan><tspan dy="4.8">)</tspan></text>
<line x1="89.70" y1="729.20" x2="318.60" y2="614.20" stroke="#ee1122" stroke-width="1.5"/>
<rect x="103.4" y="711.7" width="4.6" height="4.6" fill="#111"/>
<rect x="175.2" y="677.9" width="4.6" height="4.6" fill="#111"/>
<rect x="228.2" y="655.9" width="4.6" height="4.6" fill="#111"/>
<rect x="258.3" y="646.1" width="4.6" height="4.6" fill="#111"/>
<rect x="288.7" y="629.2" width="4.6" height="4.6" fill="#111"/>
<text x="116.00" y="662.68" font-size="11.4" text-anchor="start">Elox300</text>
<text x="167.00" y="718.90" font-size="10.1" text-anchor="start">38.3 mV dec<tspan font-size="6.4" dy="-4.4">-1</tspan></text>
</svg>
</body></html>
